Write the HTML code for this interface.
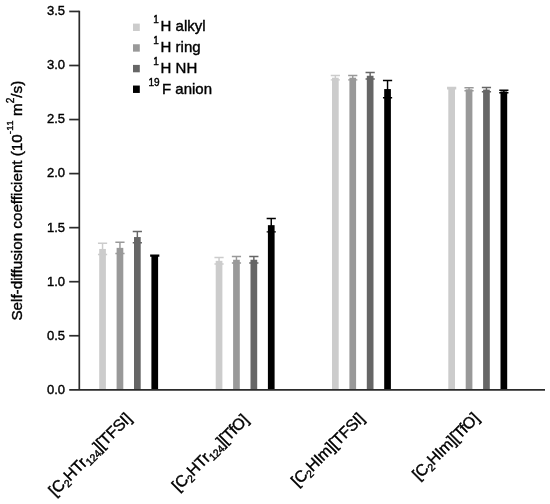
<!DOCTYPE html>
<html><head><meta charset="utf-8"><title>Self-diffusion coefficient</title>
<style>
html,body{margin:0;padding:0;background:#fff;}
svg{display:block;}
text{font-family:"Liberation Sans",sans-serif;fill:#000;stroke:#000;stroke-width:0.4px;}
</style></head><body>
<svg width="550" height="504" viewBox="0 0 550 504">
<rect width="550" height="504" fill="#fff"/>

<rect x="99.20" y="248.95" width="6.7" height="140.85" fill="#cccccc"/>
<path d="M102.55 243.32V254.57M97.95 243.32h9.2M97.95 254.57h9.2" stroke="#cccccc" stroke-width="1.45" fill="none"/>
<rect x="116.60" y="247.86" width="6.7" height="141.94" fill="#999999"/>
<path d="M119.95 242.24V253.49M115.35 242.24h9.2M115.35 253.49h9.2" stroke="#999999" stroke-width="1.45" fill="none"/>
<rect x="134.00" y="237.05" width="6.7" height="152.75" fill="#666666"/>
<path d="M137.35 231.43V242.68M132.75 231.43h9.2M132.75 242.68h9.2" stroke="#666666" stroke-width="1.45" fill="none"/>
<rect x="151.40" y="255.65" width="6.7" height="134.15" fill="#000000"/>
<path d="M154.75 255.22V256.08M150.15 255.22h9.2M150.15 256.08h9.2" stroke="#000000" stroke-width="1.45" fill="none"/>
<rect x="215.70" y="260.84" width="6.7" height="128.96" fill="#cccccc"/>
<path d="M219.05 257.59V264.08M214.45 257.59h9.2M214.45 264.08h9.2" stroke="#cccccc" stroke-width="1.45" fill="none"/>
<rect x="233.10" y="259.76" width="6.7" height="130.04" fill="#999999"/>
<path d="M236.45 256.51V263.00M231.85 256.51h9.2M231.85 263.00h9.2" stroke="#999999" stroke-width="1.45" fill="none"/>
<rect x="250.50" y="259.76" width="6.7" height="130.04" fill="#666666"/>
<path d="M253.85 256.51V263.00M249.25 256.51h9.2M249.25 263.00h9.2" stroke="#666666" stroke-width="1.45" fill="none"/>
<rect x="267.90" y="225.16" width="6.7" height="164.64" fill="#000000"/>
<path d="M271.25 218.46V231.87M266.65 218.46h9.2M266.65 231.87h9.2" stroke="#000000" stroke-width="1.45" fill="none"/>
<rect x="332.00" y="77.72" width="6.7" height="312.08" fill="#cccccc"/>
<path d="M335.35 75.55V79.88M330.75 75.55h9.2M330.75 79.88h9.2" stroke="#cccccc" stroke-width="1.45" fill="none"/>
<rect x="349.40" y="77.72" width="6.7" height="312.08" fill="#999999"/>
<path d="M352.75 75.55V79.88M348.15 75.55h9.2M348.15 79.88h9.2" stroke="#999999" stroke-width="1.45" fill="none"/>
<rect x="366.80" y="75.77" width="6.7" height="314.03" fill="#666666"/>
<path d="M370.15 72.53V79.01M365.55 72.53h9.2M365.55 79.01h9.2" stroke="#666666" stroke-width="1.45" fill="none"/>
<rect x="384.20" y="89.07" width="6.7" height="300.73" fill="#000000"/>
<path d="M387.55 80.42V97.71M382.95 80.42h9.2M382.95 97.71h9.2" stroke="#000000" stroke-width="1.45" fill="none"/>
<rect x="448.30" y="88.20" width="6.7" height="301.60" fill="#cccccc"/>
<path d="M451.65 87.55V88.85M447.05 87.55h9.2M447.05 88.85h9.2" stroke="#cccccc" stroke-width="1.45" fill="none"/>
<rect x="465.70" y="89.28" width="6.7" height="300.52" fill="#999999"/>
<path d="M469.05 87.77V90.80M464.45 87.77h9.2M464.45 90.80h9.2" stroke="#999999" stroke-width="1.45" fill="none"/>
<rect x="483.10" y="89.61" width="6.7" height="300.19" fill="#666666"/>
<path d="M486.45 87.44V91.77M481.85 87.44h9.2M481.85 91.77h9.2" stroke="#666666" stroke-width="1.45" fill="none"/>
<rect x="500.50" y="91.44" width="6.7" height="298.36" fill="#000000"/>
<path d="M503.85 90.15V92.74M499.25 90.15h9.2M499.25 92.74h9.2" stroke="#000000" stroke-width="1.45" fill="none"/>
<path d="M79.3 10.65V390.45M69.2 389.8H545" stroke="#2b2b2b" stroke-width="1.7" fill="none"/>
<text x="65.0" y="393.65" font-size="13" text-anchor="end">0.0</text>
<path d="M69.2 335.75H79.3" stroke="#2b2b2b" stroke-width="1.7"/>
<text x="65.0" y="339.60" font-size="13" text-anchor="end">0.5</text>
<path d="M69.2 281.70H79.3" stroke="#2b2b2b" stroke-width="1.7"/>
<text x="65.0" y="285.55" font-size="13" text-anchor="end">1.0</text>
<path d="M69.2 227.65H79.3" stroke="#2b2b2b" stroke-width="1.7"/>
<text x="65.0" y="231.50" font-size="13" text-anchor="end">1.5</text>
<path d="M69.2 173.60H79.3" stroke="#2b2b2b" stroke-width="1.7"/>
<text x="65.0" y="177.45" font-size="13" text-anchor="end">2.0</text>
<path d="M69.2 119.55H79.3" stroke="#2b2b2b" stroke-width="1.7"/>
<text x="65.0" y="123.40" font-size="13" text-anchor="end">2.5</text>
<path d="M69.2 65.50H79.3" stroke="#2b2b2b" stroke-width="1.7"/>
<text x="65.0" y="69.35" font-size="13" text-anchor="end">3.0</text>
<path d="M69.2 11.45H79.3" stroke="#2b2b2b" stroke-width="1.7"/>
<text x="65.0" y="15.30" font-size="13" text-anchor="end">3.5</text>
<text transform="translate(22.2,320.6) rotate(-90)" font-size="15.22">Self-diffusion coefficient (10<tspan font-size="9.5" dy="-9" letter-spacing="0.3">-11</tspan><tspan dy="9"> m</tspan><tspan font-size="10.2" dy="-8.3">2</tspan><tspan dy="8.3">/s)</tspan></text>
<rect x="133" y="23.60" width="6.8" height="7.4" fill="#cccccc"/>
<text x="160.6" y="31.30" font-size="15"><tspan font-size="10" dy="-8" text-anchor="end" x="158.9">1</tspan><tspan dy="8" x="160.6">H alkyl</tspan></text>
<rect x="133" y="44.25" width="6.8" height="7.4" fill="#999999"/>
<text x="160.6" y="51.90" font-size="15"><tspan font-size="10" dy="-8" text-anchor="end" x="158.9">1</tspan><tspan dy="8" x="160.6">H ring</tspan></text>
<rect x="133" y="64.90" width="6.8" height="7.4" fill="#666666"/>
<text x="160.6" y="72.50" font-size="15"><tspan font-size="10" dy="-8" text-anchor="end" x="158.9">1</tspan><tspan dy="8" x="160.6">H NH</tspan></text>
<rect x="133" y="85.55" width="6.8" height="7.4" fill="#000000"/>
<text x="162.0" y="93.60" font-size="15"><tspan font-size="10" dy="-8" text-anchor="end" x="159.5">19</tspan><tspan dy="8" x="162.0">F anion</tspan></text>
<text transform="translate(132.5,419.5) rotate(-45)" font-size="16" text-anchor="end" letter-spacing="-0.25">[C<tspan font-size="10.5" dy="3">2</tspan><tspan dy="-3">HTr</tspan><tspan font-size="10.5" dy="3">124</tspan><tspan dy="-3">][TFSI]</tspan></text>
<text transform="translate(249.5,420.9) rotate(-45)" font-size="16" text-anchor="end" letter-spacing="-0.25">[C<tspan font-size="10.5" dy="3">2</tspan><tspan dy="-3">HTr</tspan><tspan font-size="10.5" dy="3">124</tspan><tspan dy="-3">][T<tspan dx="-0.8">f</tspan><tspan dx="-0.3">O]</tspan></tspan></text>
<text transform="translate(365.3,419.5) rotate(-45)" font-size="16" text-anchor="end" letter-spacing="-0.25">[C<tspan font-size="10.5" dy="3">2</tspan><tspan dy="-3">HIm][TFSI]</tspan></text>
<text transform="translate(480.2,419.3) rotate(-45)" font-size="16" text-anchor="end" letter-spacing="-0.25">[C<tspan font-size="10.5" dy="3">2</tspan><tspan dy="-3">HIm][T<tspan dx="-0.8">f</tspan><tspan dx="-0.3">O]</tspan></tspan></text>
</svg></body></html>
